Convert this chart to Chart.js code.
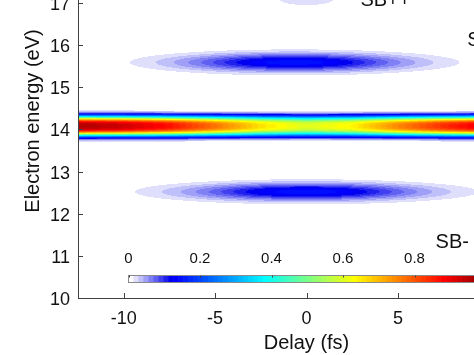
<!DOCTYPE html>
<html><head><meta charset="utf-8">
<script src="https://cdn.jsdelivr.net/npm/chart.js@4.4.1/dist/chart.umd.min.js"></script>
<style>
html,body{margin:0;padding:0;background:#fff;overflow:hidden;width:474px;height:355px;position:relative}
#c{position:absolute;left:0;top:-60px}
</style></head>
<body><canvas id="c" width="560" height="415"></canvas>
<script>
// ---------- data ----------
const xTicks = [-10, -5, 0, 5, 10];
const yTicks = [10, 11, 12, 13, 14, 15, 16, 17, 18];
const cbTicks = [0, 0.2, 0.4, 0.6, 0.8, 1];

// main photoline: peak intensity read at these delays (fs)
const mainDelays = [-12.5, -10, -7.5, -5, -2.5, 0, 2.5, 5, 7.5, 10, 12.5];
const mainPeak   = [0.96, 0.93, 0.87, 0.77, 0.66, 0.60, 0.64, 0.75, 0.84, 0.91, 0.95];
const mainEnergy = 14.08;   // eV
const mainWidth  = 0.229;   // eV (half width of the flat-topped profile)
const mainShape  = 3;       // profile exponent

// sidebands
const sbNames       = ['SB++', 'SB+', 'SB-'];
const sbEnergy      = [17.12, 15.59, 12.52];  // eV
const sbDelay       = [0.0, -0.65, 0.0];      // fs
const sbPeak        = [0.027, 0.15, 0.15];
const sbDelayWidth  = [1.35, 4.13, 4.3];      // fs (sigma)
const sbEnergyWidth = [0.148, 0.142, 0.137];  // eV (sigma)

// label anchors (delay, energy)
const labelDelay  = [2.95, 8.8, 7.06];
const labelEnergy = [17.07, 16.11, 11.31];

const FONT = "'Liberation Sans', Arial, sans-serif";
const STEP = 1 / 72;

function mainAmp(d) {
  if (d <= mainDelays[0]) return mainPeak[0];
  for (let i = 1; i < mainDelays.length; i++) {
    if (d <= mainDelays[i]) {
      const t = (d - mainDelays[i - 1]) / (mainDelays[i] - mainDelays[i - 1]);
      return mainPeak[i - 1] + t * (mainPeak[i] - mainPeak[i - 1]);
    }
  }
  return mainPeak[mainPeak.length - 1];
}
function intensity(d, E) {
  let v = mainAmp(d) * Math.exp(-Math.pow(Math.abs(E - mainEnergy) / mainWidth, mainShape));
  for (let i = 0; i < sbEnergy.length; i++) {
    v += sbPeak[i] * Math.exp(-((d - sbDelay[i]) ** 2) / (2 * sbDelayWidth[i] ** 2)
                              - ((E - sbEnergy[i]) ** 2) / (2 * sbEnergyWidth[i] ** 2));
  }
  return v;
}
function clamp(a) { return Math.max(0, Math.min(1, a)); }
function levelColor(k) {
  if (k <= 0) return [255, 255, 255];
  const q = k * STEP;
  if (q < 0.11) {
    const t = k / 8;
    return [255 * (1 - t), 255 * (1 - t), 255 * (1 - t) + 235 * t];
  }
  const v = Math.min(q, 1);
  return [255 * clamp(1.5 - Math.abs(4 * v - 3)),
          255 * clamp(1.5 - Math.abs(4 * v - 2)),
          255 * clamp(1.5 - Math.abs(4 * v - 1))];
}

const heatPlugin = {
  id: 'heat',
  beforeDatasetsDraw(chart) {
    const {ctx, chartArea: a, scales: {x, y}} = chart;
    const w = Math.round(a.right - a.left), h = Math.round(a.bottom - a.top);
    const off = document.createElement('canvas');
    off.width = w; off.height = h;
    const octx = off.getContext('2d');
    const img = octx.createImageData(w, h);
    for (let py = 0; py < h; py++) {
      const E = y.getValueForPixel(a.top + py + 0.5);
      for (let px = 0; px < w; px++) {
        const d = x.getValueForPixel(a.left + px + 0.5);
        const k = Math.floor(intensity(d, E) / STEP);
        const c = levelColor(k);
        const o = (py * w + px) * 4;
        img.data[o] = c[0]; img.data[o + 1] = c[1]; img.data[o + 2] = c[2]; img.data[o + 3] = 255;
      }
    }
    octx.putImageData(img, 0, 0);
    ctx.save();
    ctx.filter = 'blur(0.5px)';
    ctx.drawImage(off, a.left, a.top);
    ctx.restore();
  },
  afterDraw(chart) {
    const {ctx, chartArea: a, scales: {x, y}} = chart;
    ctx.save();
    // axes lines + inward ticks
    ctx.strokeStyle = '#404040'; ctx.lineWidth = 1;
    ctx.beginPath();
    ctx.moveTo(a.left + 0.5, a.top); ctx.lineTo(a.left + 0.5, a.bottom + 0.5);
    ctx.lineTo(a.right, a.bottom + 0.5);
    for (const v of yTicks) {
      const p = Math.round(y.getPixelForValue(v)) + 0.5;
      ctx.moveTo(a.left, p); ctx.lineTo(a.left + 5, p);
    }
    for (const v of xTicks) {
      const p = Math.round(x.getPixelForValue(v)) + 0.5;
      ctx.moveTo(p, a.bottom); ctx.lineTo(p, a.bottom - 5);
    }
    ctx.stroke();

    // colorbar
    const cbL = a.left + 50.5, cbW = 357.5, cbT = a.bottom - 23, cbH = 7;
    const nLev = Math.round(1 / STEP);
    for (let k = 0; k < nLev; k++) {
      const c = levelColor(k);
      const x0 = cbL + k * STEP * cbW, x1 = cbL + (k + 1) * STEP * cbW;
      ctx.fillStyle = `rgb(${c[0] | 0},${c[1] | 0},${c[2] | 0})`;
      ctx.fillRect(x0, cbT, x1 - x0 + 0.6, cbH);
    }
    ctx.strokeStyle = '#8a8a8a';
    ctx.strokeRect(cbL, cbT + 0.5, cbW, cbH);
    ctx.strokeStyle = '#444';
    ctx.beginPath();
    for (const v of cbTicks) {
      const p = Math.round(cbL + v * cbW) + 0.5;
      ctx.moveTo(p, cbT + 0.5); ctx.lineTo(p, cbT + 2.5);
    }
    ctx.stroke();
    ctx.fillStyle = '#111';
    ctx.font = `15px ${FONT}`;
    ctx.textAlign = 'center'; ctx.textBaseline = 'middle';
    for (const v of cbTicks) {
      ctx.fillText(String(v), cbL + v * cbW, cbT - 16);
    }

    // sideband labels
    ctx.font = `20px ${FONT}`;
    ctx.textAlign = 'left'; ctx.textBaseline = 'middle';
    for (let i = 0; i < sbNames.length; i++) {
      ctx.fillText(sbNames[i], x.getPixelForValue(labelDelay[i]), y.getPixelForValue(labelEnergy[i]));
    }
    ctx.restore();
  }
};

new Chart(document.getElementById('c'), {
  type: 'scatter',
  data: {datasets: []},
  options: {
    responsive: false, animation: false, devicePixelRatio: 1,
    layout: {padding: {top: 4, right: 25, bottom: 0, left: 0}},
    plugins: {legend: {display: false}, tooltip: {enabled: false}},
    scales: {
      x: {
        type: 'linear', min: -12.5, max: 12.5,
        afterBuildTicks: s => { s.ticks = xTicks.map(v => ({value: v})); },
        afterFit: s => { s.height = 57; s.paddingLeft = 0; s.paddingRight = 0; },
        grid: {display: false, drawTicks: false},
        border: {display: false},
        ticks: {padding: 10, color: '#111', font: {family: FONT, size: 18}, maxRotation: 0, autoSkip: false,
                callback: v => String(v)},
        title: {display: true, text: 'Delay (fs)', color: '#111', font: {family: FONT, size: 20},
                padding: {top: 0, bottom: 0}}
      },
      y: {
        type: 'linear', min: 10, max: 18.4,
        afterBuildTicks: s => { s.ticks = yTicks.map(v => ({value: v})); },
        afterFit: s => { s.width = 78; s.paddingTop = 0; s.paddingBottom = 0; },
        grid: {display: false, drawTicks: false},
        border: {display: false},
        ticks: {padding: 8, labelOffset: 2, color: '#111', font: {family: FONT, size: 18}, autoSkip: false,
                callback: v => String(v)},
        title: {display: true, text: 'Electron energy (eV)', color: '#111', font: {family: FONT, size: 20},
                padding: {top: 21, bottom: 0}}
      }
    }
  },
  plugins: [heatPlugin]
});
</script>
</body></html>
